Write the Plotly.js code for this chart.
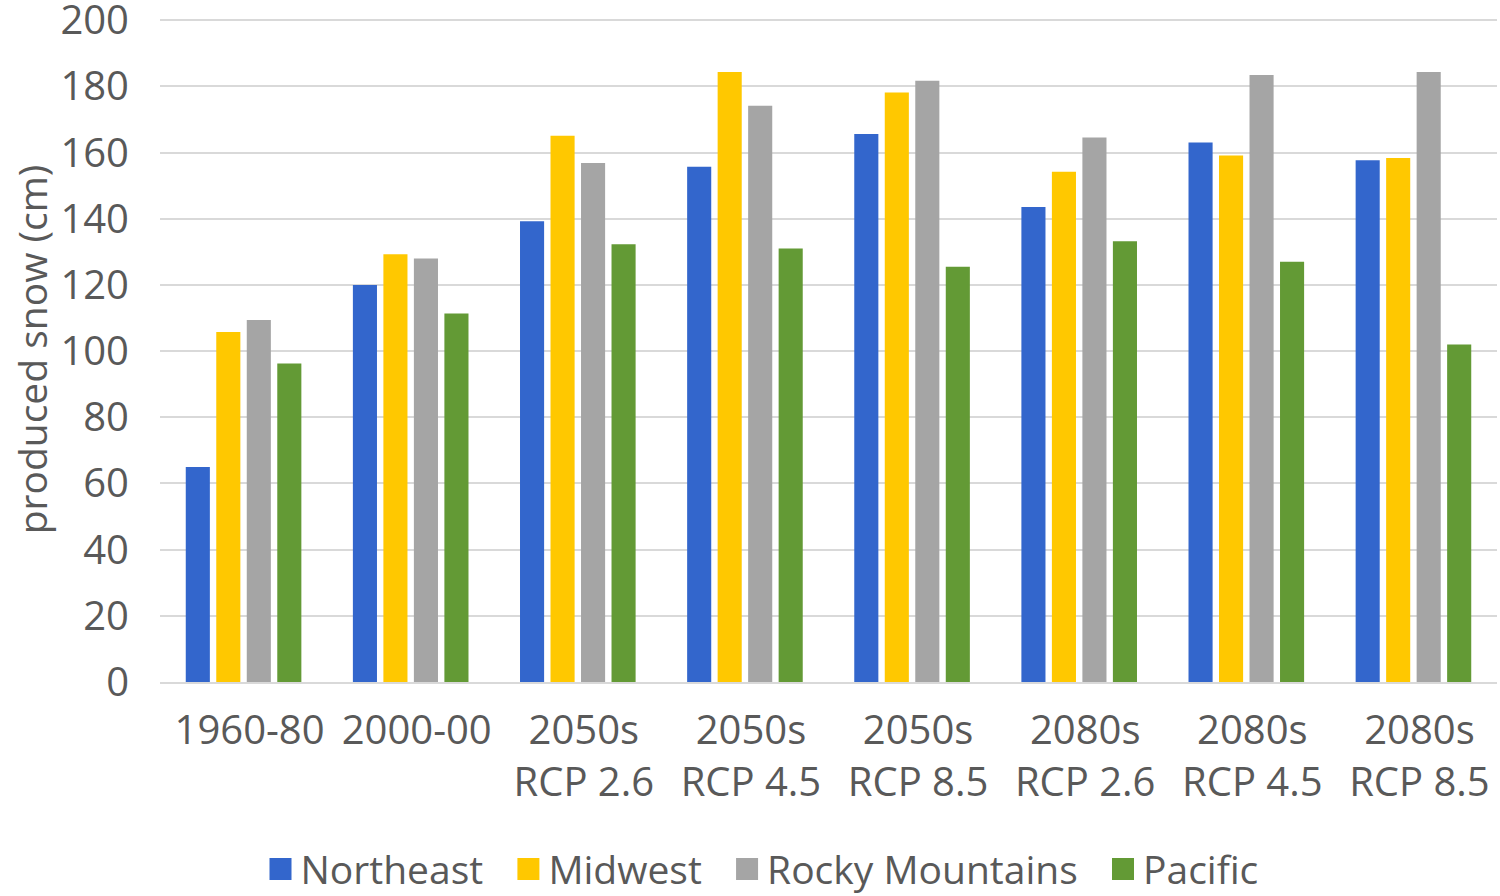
<!DOCTYPE html>
<html>
<head>
<meta charset="utf-8">
<script src="https://cdn.plot.ly/plotly-3.0.1.min.js"></script>
<style>
  html, body { margin: 0; padding: 0; background: #ffffff; }
  #chart { width: 1500px; height: 896px; }
</style>
</head>
<body>
<div id="chart"></div>
<script>
const categories = [
  "1960-80",
  "2000-00",
  "2050s<br>RCP 2.6",
  "2050s<br>RCP 4.5",
  "2050s<br>RCP 8.5",
  "2080s<br>RCP 2.6",
  "2080s<br>RCP 4.5",
  "2080s<br>RCP 8.5"
];
const seriesNames = ["Northeast", "Midwest", "Rocky Mountains", "Pacific"];
const northeast = [65, 120, 139.3, 155.7, 165.6, 143.6, 163.1, 157.7];
const midwest   = [105.8, 129.3, 165.1, 184.4, 178.2, 154.2, 159.1, 158.4];
const rocky     = [109.4, 128, 156.9, 174.2, 181.7, 164.6, 183.5, 184.4];
const pacific   = [96.3, 111.4, 132.3, 131.0, 125.5, 133.2, 127.0, 102.0];
const yTicks = [0, 20, 40, 60, 80, 100, 120, 140, 160, 180, 200];

const colors = ["#3366CC", "#FFC800", "#A5A5A5", "#639A35"];
const values = [northeast, midwest, rocky, pacific];

const FONT = "'Open Sans', 'Segoe UI', sans-serif";
const TXT = "#595959";
const NBSP = "\u00a0\u00a0";

const traces = seriesNames.map((name, i) => ({
  type: "bar",
  name: i < seriesNames.length - 1 ? name + NBSP : name,
  x: categories,
  y: values[i],
  marker: { color: colors[i], line: { width: 0 } },
  hoverinfo: "x+y"
}));

const layout = {
  width: 1500,
  height: 896,
  paper_bgcolor: "#ffffff",
  plot_bgcolor: "#ffffff",
  margin: { l: 160, r: 3, t: 17, b: 214 },
  barmode: "group",
  bargap: 0.27,
  bargroupgap: 0.21,
  font: { family: FONT, color: TXT, size: 40 },
  xaxis: {
    type: "category",
    showgrid: false,
    showline: true,
    linecolor: "#D9D9D9",
    linewidth: 2,
    ticks: "",
    ticklabelstandoff: 12,
    ticklabelshift: 6,
    tickfont: { family: FONT, size: 40, color: TXT },
    zeroline: false
  },
  yaxis: {
    range: [0, 201],
    tickvals: yTicks,
    ticktext: yTicks.map(String),
    showgrid: true,
    gridcolor: "#D9D9D9",
    gridwidth: 2,
    zeroline: false,
    showline: false,
    ticks: "",
    ticklabelstandoff: 30,
    ticklabeloverflow: "allow",
    tickfont: { family: FONT, size: 40, color: TXT },
    title: { text: "produced snow (cm)", font: { family: FONT, size: 39, color: TXT }, standoff: 0 }
  },
  showlegend: true,
  legend: {
    orientation: "h",
    xref: "container",
    yref: "container",
    x: 0.508,
    xanchor: "center",
    y: 0.03,
    yanchor: "middle",
    font: { family: FONT, size: 39, color: TXT },
    bgcolor: "rgba(0,0,0,0)",
    traceorder: "normal"
  }
};

Plotly.newPlot("chart", traces, layout, { displayModeBar: false, staticPlot: true }).then(() => {
  document.querySelectorAll(".legend .legendpoints path").forEach(p => {
    p.setAttribute("d", "M11,11H-11V-11H11Z");
  });
});
</script>
</body>
</html>
